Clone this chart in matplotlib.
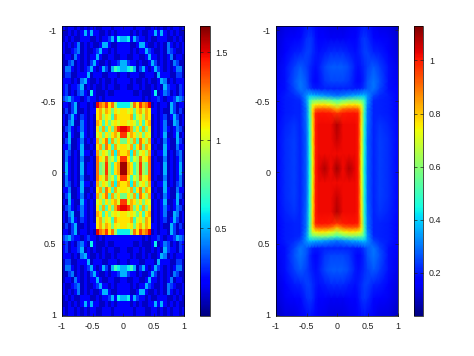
import numpy as np
import matplotlib
matplotlib.use("Agg")
import matplotlib.pyplot as plt

plt.rcParams['font.family'] = ['Liberation Sans', 'DejaVu Sans']
plt.rcParams['font.size'] = 6.4

# Upper-left quarter of the left panel, one digit per cell (base 17, tenths).
left_rows = [
    "21221212122112221222",
    "11212125252211212122",
    "12121122211212235265",
    "21212412121125521122",
    "21123412112352212122",
    "12214212122521122112",
    "11341212135211212235",
    "14421212352125315765",
    "13311222512221122212",
    "22212145211212112122",
    "23122351212112122112",
    "23121342162111211222",
    "34532212322121222222",
    "2213512212 FDCEBD966".replace(" ", "1"),
    "13135112122BCACB8BAB",
    "21352132121BC9BA7CBB",
    "21451142121CB7B8ABAB",
    "13421242121B8C7B8CEF",
    "21521152121AB8B9BCAE",
    "13511241212C9BD7C9B8",
    "22411251121BC8DB7CAB",
    "14312152212C9BA8C6CB",
    "14212141121DBAD9A7BE",
    "15212151221D89E97BCG",
]

# Upper-left quarter of the right panel.
right_x = [-1, -.85, -.7, -.6, -.5, -.45, -.4, -.35, -.3, -.2, -.1, 0]
right_y = [-1.03, -.9, -.8, -.7, -.6, -.55, -.5, -.47, -.44, -.41, -.38, -.3, -.2, -.1, 0]
right_values = [
    [.10, .13, .13, .15, .18, .19, .18, .16, .15, .14, .13, .13],
    [.12, .15, .17, .18, .22, .23, .22, .19, .17, .16, .15, .15],
    [.13, .17, .20, .21, .24, .24, .22, .20, .19, .20, .22, .22],
    [.14, .19, .24, .27, .24, .22, .20, .19, .20, .25, .27, .27],
    [.15, .19, .26, .30, .26, .22, .19, .18, .19, .23, .25, .25],
    [.16, .19, .25, .30, .27, .24, .21, .20, .20, .21, .21, .21],
    [.17, .20, .22, .25, .33, .38, .38, .37, .36, .34, .32, .30],
    [.17, .20, .21, .22, .33, .48, .55, .57, .58, .58, .55, .50],
    [.17, .20, .21, .21, .32, .50, .70, .74, .76, .76, .73, .66],
    [.17, .20, .21, .21, .30, .50, .76, .90, .92, .92, .90, .82],
    [.17, .20, .21, .21, .30, .48, .78, .99, 1.01, 1.01, 1.0, .97],
    [.18, .21, .23, .21, .29, .46, .76, 1.0, 1.02, 1.02, 1.02, 1.08],
    [.18, .22, .24, .21, .28, .45, .76, 1.0, 1.02, 1.02, 1.02, 1.06],
    [.18, .22, .24, .21, .28, .45, .74, 1.0, 1.02, 1.02, 1.02, 1.02],
    [.18, .22, .24, .21, .28, .44, .74, 1.0, 1.03, 1.08, 1.02, 1.1],
]

axis_ticks = [-1, -0.5, 0, 0.5, 1]
axis_labels = ["-1", "-0.5", "0", "0.5", "1"]
left_cb_ticks = [0.5, 1, 1.5]
left_cb_labels = ["0.5", "1", "1.5"]
right_cb_ticks = [0.2, 0.4, 0.6, 0.8, 1]
right_cb_labels = ["0.2", "0.4", "0.6", "0.8", "1"]

W, H = 474, 356
# Vertical axis of both panels: zero and unit length, in pixels of the figure.
ZERO_PX, UNIT_PX = 172.5, 142.4
TOP_PX, BOTTOM_PX = 26, 316
CENTRE = (168.5 - ZERO_PX) / UNIT_PX
SCALE = 145 / UNIT_PX

fig = plt.figure(figsize=(W / 100, H / 100), dpi=100)


def box(x0, x1, y0, y1):
    return fig.add_axes([x0 / W, 1 - y1 / H, (x1 - x0) / W, (y1 - y0) / H])


def style(ax):
    ax.set_xlim(-1, 1)
    ax.set_ylim((BOTTOM_PX - ZERO_PX) / UNIT_PX, (TOP_PX - ZERO_PX) / UNIT_PX)
    ax.set_xticks(axis_ticks, axis_labels)
    ax.set_yticks(axis_ticks, axis_labels)
    ax.tick_params(direction='in', length=2, width=0.4, top=True, right=True, pad=4, colors='#222222')
    for s in ax.spines.values():
        s.set_linewidth(0.5)
        s.set_zorder(5)


def bar(im, cax, ticks, labels):
    cb = fig.colorbar(im, cax=cax)
    cb.set_ticks(ticks, labels=labels)
    cax.tick_params(direction='in', length=2.5, width=0.5, left=True, right=True, pad=4, colors='#222222')
    cb.outline.set_linewidth(0.5)


# Left panel: cells, mirrored about the two centre lines.
quarter = np.array([[int(ch, 17) / 10 for ch in row] for row in left_rows])
half = np.hstack([quarter, quarter[:, ::-1]])
full = np.vstack([half, half[::-1], half[:1]])
dy = 2 / 48 * SCALE
y_top = CENTRE - 24 * dy
ax1 = box(62, 184, TOP_PX, BOTTOM_PX)
im1 = ax1.imshow(full, cmap='jet', vmin=0, vmax=1.65, aspect='auto', interpolation='nearest',
                 extent=[-1, 1, y_top + dy * full.shape[0], y_top])
style(ax1)
bar(im1, box(199.5, 209.5, TOP_PX, BOTTOM_PX), left_cb_ticks, left_cb_labels)

# Right panel: smooth field, mirrored about the two centre lines.
rv = np.array(right_values)
rh = np.hstack([rv, rv[:, -2::-1]])
rf = np.vstack([rh, rh[-2::-1]])
rx = np.array(right_x + [-v for v in right_x[-2::-1]])
ry = np.array(right_y + [-v for v in right_y[-2::-1]]) * SCALE + CENTRE
ax2 = box(276, 398, TOP_PX, BOTTOM_PX)
im2 = ax2.pcolormesh(rx, ry, rf, cmap='jet', vmin=0.037, vmax=1.13, shading='gouraud')
style(ax2)
bar(im2, box(413.5, 423.5, TOP_PX, BOTTOM_PX), right_cb_ticks, right_cb_labels)

fig.savefig("out.png", dpi=100)
